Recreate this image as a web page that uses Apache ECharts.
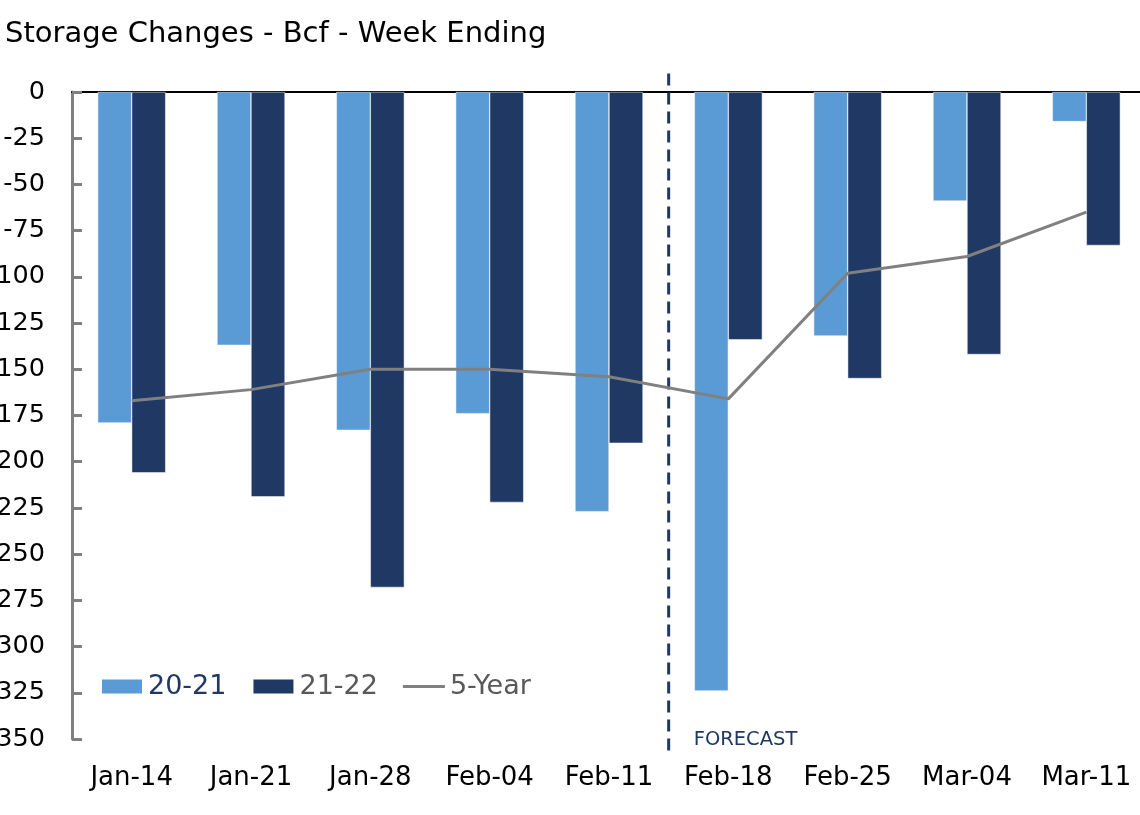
<!DOCTYPE html>
<html><head><meta charset="utf-8">
<script src="https://cdn.jsdelivr.net/npm/echarts@6/dist/echarts.min.js"></script>
<style>html,body{margin:0;padding:0;background:#fff}#c{width:1140px;height:815px}</style>
</head><body><div id="c"></div>
<script>
const categories = ['Jan-14','Jan-21','Jan-28','Feb-04','Feb-11','Feb-18','Feb-25','Mar-04','Mar-11'];
const s2021 = [-179,-137,-183,-174,-227,-324,-132,-59,-16];
const s2122 = [-206,-219,-268,-222,-190,-134,-155,-142,-83];
const fiveYear = [-167,-161,-150,-150,-154,-166,-98,-89,-65];
const yTicks = [0,-25,-50,-75,-100,-125,-150,-175,-200,-225,-250,-275,-300,-325,-350];
const forecastStartIndex = 5;        // first forecast week (Feb-18)
const forecastLine = [[forecastStartIndex, 10, -359]];

const FONT = 'DejaVu Sans';
const chart = echarts.init(document.getElementById('c'));
chart.setOption({
  animation:false,
  textStyle:{fontFamily:FONT},
  title:{text:'Storage Changes - Bcf - Week Ending',left:0,top:15,
    textStyle:{fontSize:29,fontWeight:'normal',color:'#000',fontFamily:FONT}},
  grid:{left:72,right:-6,top:92,bottom:76,containLabel:false,outerBoundsMode:'none'},
  legend:{left:100,top:673,itemWidth:42,itemHeight:16,itemGap:25,padding:0,
    textStyle:{fontSize:27,fontFamily:FONT},
    data:[
      {name:'20-21',icon:'rect',textStyle:{color:'#203864'}},
      {name:'21-22',icon:'rect',textStyle:{color:'#595959'}},
      {name:'5-Year',icon:'path://M0,0H42V3H0Z',itemStyle:{color:'#808080'},textStyle:{color:'#595959'}}
    ]},
  xAxis:[
    {type:'category',data:categories,position:'bottom',
      axisLine:{show:false},axisTick:{show:false},
      axisLabel:{fontSize:26,color:'#000',margin:26,fontFamily:FONT}},
    {type:'category',data:categories,position:'top',
      axisLine:{show:true,lineStyle:{color:'#000',width:2}},axisTick:{show:false},
      axisLabel:{show:false}}
  ],
  yAxis:{type:'value',min:-350,max:0,interval:25,
    axisLine:{show:true,lineStyle:{color:'#808080',width:3}},
    axisTick:{show:true,inside:true,length:10,lineStyle:{color:'#808080',width:3}},
    splitLine:{show:false},
    axisLabel:{fontSize:25.5,color:'#000',margin:27,fontFamily:FONT,
      formatter:v=>yTicks.includes(v)?String(v):''}},
  series:[
    {name:'20-21',type:'bar',data:s2021,barWidth:'28.5%',barGap:'0%',
      itemStyle:{color:'#5b9bd5',borderColor:'#fff',borderWidth:0.5}},
    {name:'21-22',type:'bar',data:s2122,barWidth:'28.5%',barGap:'0%',
      itemStyle:{color:'#203864',borderColor:'#fff',borderWidth:0.5}},
    {name:'5-Year',type:'line',data:fiveYear,symbol:'none',z:5,
      lineStyle:{color:'#808080',width:3},itemStyle:{color:'#808080'}},
    {name:'forecast',type:'custom',data:forecastLine,silent:true,clip:false,z:4,
      renderItem:(params,api)=>{
        const idx = api.value(0);
        const x = (api.coord([idx-1,0])[0] + api.coord([idx,0])[0]) / 2;
        const y1 = api.coord([idx, api.value(1)])[1];
        const y2 = api.coord([idx, api.value(2)])[1];
        const yb = api.coord([idx, -350])[1];
        return {type:'group',children:[
          {type:'line',shape:{x1:x,y1:y1,x2:x,y2:y2},
            style:{stroke:'#203864',lineWidth:3,lineDash:[12,7]}},
          {type:'text',x:x+25,y:yb+1,
            style:{text:'FORECAST',fontSize:19.5,fill:'#203864',fontFamily:FONT,verticalAlign:'middle',align:'left'}}
        ]};
      }}
  ]
});
</script></body></html>
